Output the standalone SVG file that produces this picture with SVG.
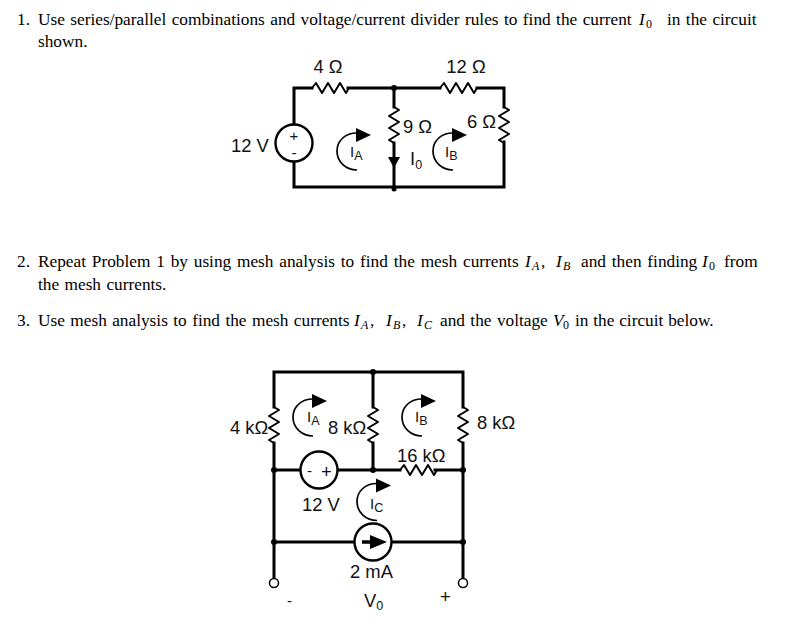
<svg xmlns="http://www.w3.org/2000/svg" width="812" height="643" viewBox="0 0 812 643">
<style>
.t{font-family:"Liberation Serif","Times New Roman",serif;font-size:17.3px;fill:#000;word-spacing:1.1px}
.u{word-spacing:1.5px}
.i{font-style:italic}
.s{font-size:12px}
.c{font-family:"Liberation Sans",Arial,sans-serif;font-size:18.4px;fill:#111}
.m{text-anchor:middle}
.l{font-size:15px}
.sc{font-size:12.5px}
.w{fill:none;stroke:#000;stroke-width:3;stroke-linejoin:miter;stroke-linecap:square}
.r{fill:none;stroke:#000;stroke-width:2;stroke-linejoin:round}
.a{fill:none;stroke:#000;stroke-width:1.7}
.src{fill:#fff;stroke:#000;stroke-width:2.4}
.term{fill:#fff;stroke:#000;stroke-width:1.5}
</style>
<defs>
<path id="rh" d="M0 0l4 -5l6 10l6 -10l6 10l6 -10l6 10l3 -5" class="r"/>
<path id="rv" d="M0 0l5 3l-10 6l10 6l-10 6l10 6l-10 6l5 3" class="r"/>
<path id="mesh" d="M0 -18C-12 -18 -20 -10 -20 0C-20 11 -11 19 0 19" class="a"/>
<path id="meshh" d="M-1 -23L14 -16L-1 -9Z" fill="#000"/>
</defs>
<g id="text">
<text class="t" x="17" y="25">1.</text>
<text class="t" x="38" y="25">Use series/parallel combinations and voltage/current divider rules to find the current</text>
<text class="t i" x="639" y="25">I</text><text class="t s" x="646" y="28">0</text>
<text class="t" x="667" y="25">in the circuit</text>
<text class="t" x="38" y="47">shown.</text>
<text class="t" x="17" y="267">2.</text>
<text class="t u" x="38" y="267">Repeat Problem 1 by using mesh analysis to find the mesh currents</text>
<text class="t i" x="525" y="267">I</text><text class="t s i" x="532" y="270">A</text><text class="t" x="541" y="267">,</text>
<text class="t i" x="556" y="267">I</text><text class="t s i" x="563" y="270">B</text>
<text class="t u" x="581" y="267">and then finding</text>
<text class="t i" x="702" y="267">I</text><text class="t s" x="709" y="270">0</text>
<text class="t" x="724" y="267">from</text>
<text class="t" x="38" y="290">the mesh currents.</text>
<text class="t" x="17" y="326">3.</text>
<text class="t" x="38" y="326">Use mesh analysis to find the mesh currents</text>
<text class="t i" x="354" y="326">I</text><text class="t s i" x="361" y="329">A</text><text class="t" x="370" y="326">,</text>
<text class="t i" x="386" y="326">I</text><text class="t s i" x="393" y="329">B</text><text class="t" x="402" y="326">,</text>
<text class="t i" x="417" y="326">I</text><text class="t s i" x="424" y="329">C</text>
<text class="t" x="440" y="326">and the voltage</text>
<text class="t i" x="553" y="326">V</text><text class="t s" x="563" y="329">0</text>
<text class="t" x="575" y="326" style="word-spacing:.5px">in the circuit below.</text>
</g>
<g id="connectors">
<path class="w" d="M312 88H294V125M294 161V187H504V142M504 107V88H477M440 88H348M394 88V107M394 143V187"/>
<path class="w" d="M373 372H274V407M274 443V583M373 372V407M373 443V470M373 372H463V407M463 443V583M274 470H301M337 470H373H400M435 470H463M274 542H355M391 542H463"/>
</g>
<g id="c1-r4"><use href="#rh" x="312" y="88"/><text class="c m" x="328" y="73">4 Ω</text></g>
<g id="c1-r12"><use href="#rh" x="440" y="88"/><text class="c m" x="466" y="73">12 Ω</text></g>
<g id="c1-r9"><use href="#rv" x="394" y="107"/><text class="c" x="403" y="133">9 Ω</text></g>
<g id="c1-r6"><use href="#rv" x="504" y="107"/><text class="c" x="467" y="128">6 Ω</text></g>
<g id="c1-src"><circle class="src" cx="294" cy="143" r="18.5"/><text class="c m l" x="294" y="141">+</text><text class="c m l" x="294" y="158">-</text><text class="c" x="231" y="152">12 V</text></g>
<g id="c1-io"><path d="M388 157H400L394 168Z" fill="#000"/><text class="c" x="410" y="165">I<tspan class="sc" dy="4">0</tspan></text></g>
<g id="c1-ia"><use href="#mesh" x="357" y="151"/><use href="#meshh" x="357" y="151"/><text class="c l" x="350" y="157">I<tspan class="sc" dy="3">A</tspan></text></g>
<g id="c1-ib"><use href="#mesh" x="453" y="151"/><use href="#meshh" x="453" y="151"/><text class="c l" x="445" y="157">I<tspan class="sc" dy="3">B</tspan></text></g>
<g id="n1"><circle cx="394" cy="88" r="3"/><circle cx="394" cy="189" r="2.5"/></g>
<g id="c2-r4"><use href="#rv" x="274" y="407"/><text class="c" x="230" y="434">4 kΩ</text></g>
<g id="c2-r8m"><use href="#rv" x="373" y="407"/><text class="c" x="328" y="434">8 kΩ</text></g>
<g id="c2-r8"><use href="#rv" x="463" y="407"/><text class="c" x="477" y="429">8 kΩ</text></g>
<g id="c2-r16"><use href="#rh" x="400" y="470"/><text class="c" x="397" y="462">16 kΩ</text></g>
<g id="c2-src"><circle class="src" cx="319" cy="470" r="18.5"/><text class="c l" x="307" y="476">-</text><text class="c" x="321" y="478">+</text><text class="c" x="302" y="511">12 V</text></g>
<g id="c2-cs"><circle class="src" cx="373" cy="542" r="18.5"/><path d="M362 542H372" stroke="#000" stroke-width="3.5"/><path d="M370 535L387 542L370 549Z" fill="#000"/><text class="c" x="350" y="578">2 mA</text></g>
<g id="c2-ia"><use href="#mesh" x="313" y="417"/><use href="#meshh" x="313" y="417"/><text class="c l" x="307" y="422">I<tspan class="sc" dy="3">A</tspan></text></g>
<g id="c2-ib"><use href="#mesh" x="422" y="417"/><use href="#meshh" x="422" y="417"/><text class="c l" x="415" y="422">I<tspan class="sc" dy="3">B</tspan></text></g>
<g id="c2-ic"><use href="#mesh" x="377" y="501.500"/><use href="#meshh" x="377" y="501.500"/><text class="c l" x="370" y="509">I<tspan class="sc" dy="3">C</tspan></text></g>
<g id="n2"><circle cx="373" cy="372" r="3"/><circle cx="274" cy="470" r="3"/><circle cx="373" cy="470" r="3"/><circle cx="463" cy="470" r="3"/><circle cx="274" cy="542" r="3"/><circle cx="463" cy="542" r="3"/></g>
<g id="terminals"><circle class="term" cx="274" cy="583" r="4.5"/><circle class="term" cx="463" cy="583" r="4.5"/><text class="c l" x="287" y="606">-</text><text class="c" x="440" y="603">+</text><text class="c" x="364" y="607">V<tspan class="sc" dy="3">0</tspan></text></g>
</svg>
